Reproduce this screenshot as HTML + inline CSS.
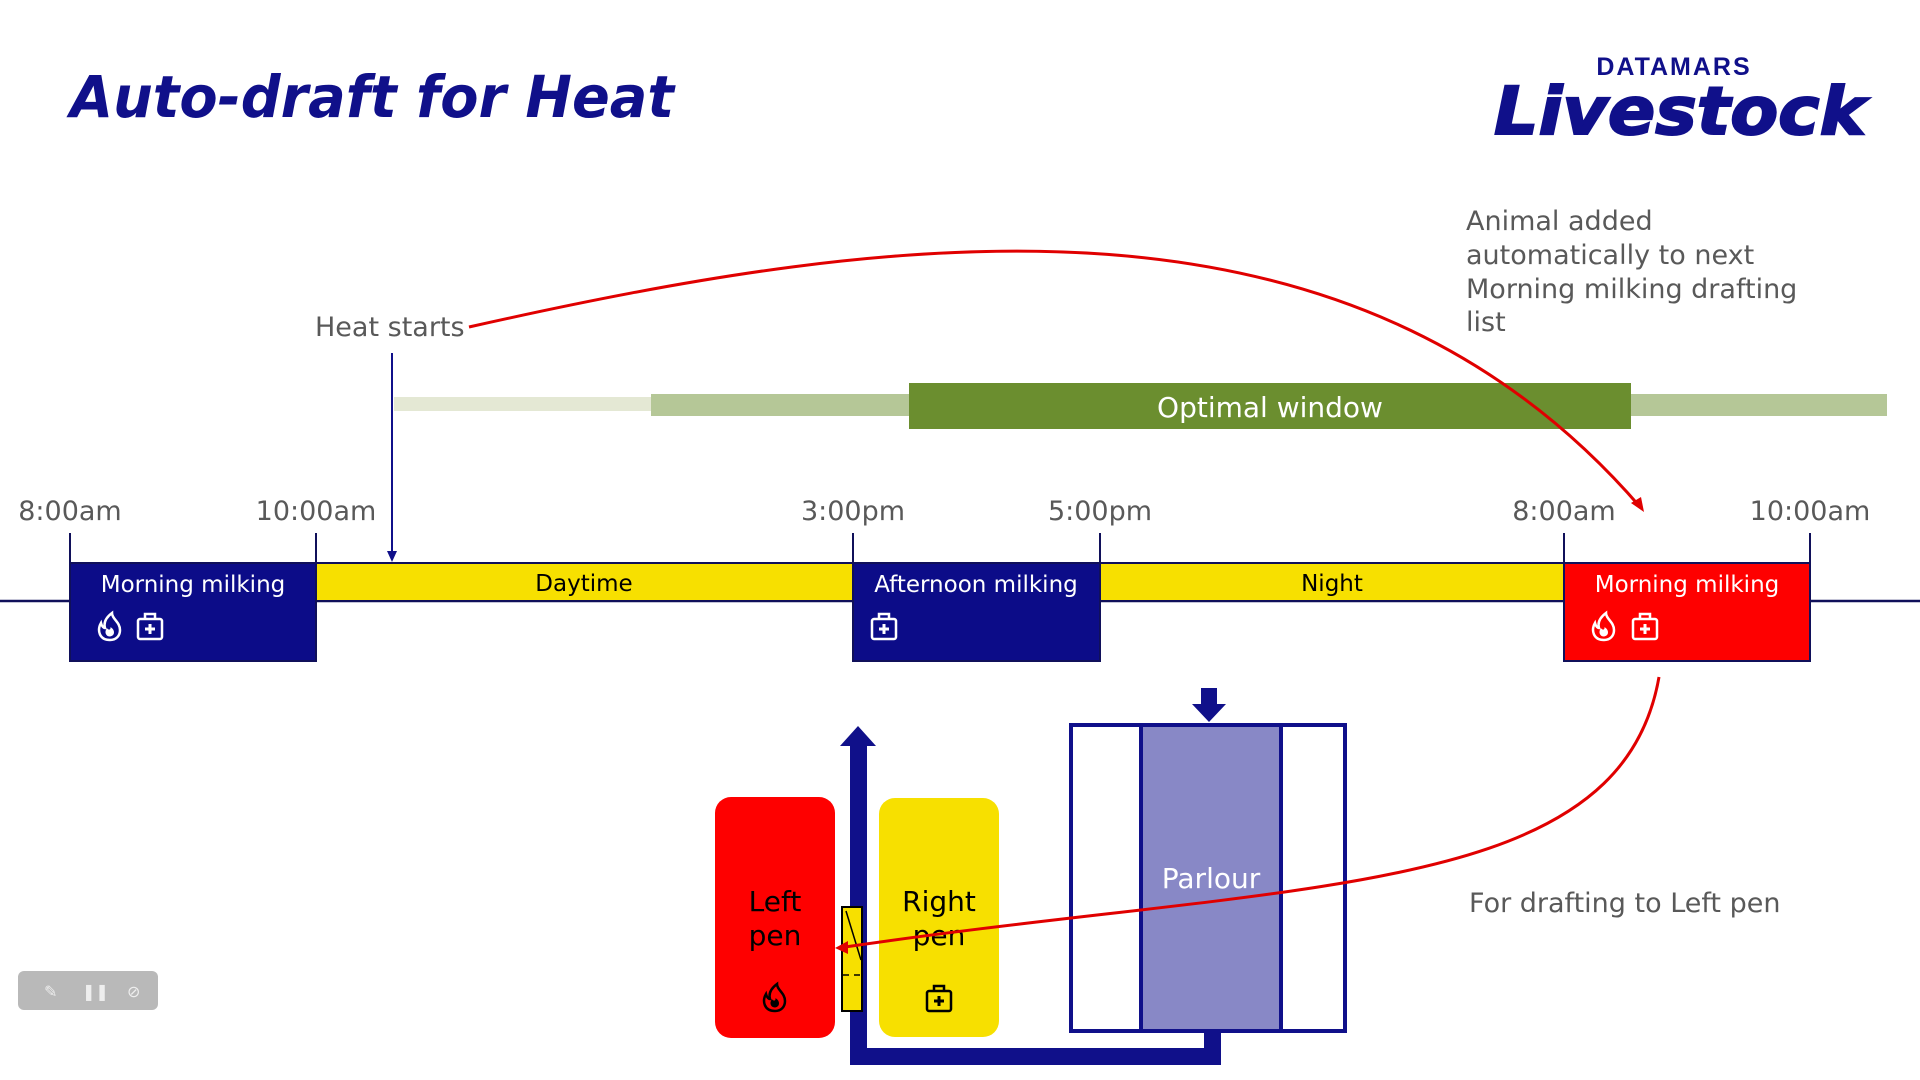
<!DOCTYPE html>
<html><head><meta charset="utf-8"><style>
html,body{margin:0;padding:0;background:#fff;}
svg{display:block;}
text{font-family:"DejaVu Sans","Liberation Sans",sans-serif;}
</style></head><body>
<svg width="1920" height="1080" viewBox="0 0 1920 1080" xmlns="http://www.w3.org/2000/svg">
<defs>
<g id="kit"><rect x="-12" y="-9" width="24" height="20" rx="2" fill="none" stroke-width="2.5"/><path d="M-5,-9 v-5 h10 v5" fill="none" stroke-width="2.5"/><path d="M0,-4 v10 M-5,1 h10" stroke-width="3"/></g>
<g id="fire"><path d="M0,13 C-11,13 -13,3 -9,-4 C-8,0 -6,1 -5,1 C-7,-6 -2,-11 2,-14 C2,-8 10,-5 10,3 C10,9 6,13 0,13 Z" fill="none" stroke-width="2.5"/><path d="M0,9 C-4,9 -5,5 -3,2 C-1,4 1,3 1,1 C4,3 5,8 0,9Z"/></g>
</defs>
<text x="70" y="117" font-size="58" font-weight="bold" font-style="italic" fill="#10108a" style="font-family:'DejaVu Sans',sans-serif" textLength="604" lengthAdjust="spacingAndGlyphs">Auto-draft for Heat</text>
<text x="1674" y="75" text-anchor="middle" font-size="25" font-weight="bold" fill="#10108a" style="font-family:'Liberation Sans',sans-serif;letter-spacing:2px">DATAMARS</text>
<text x="1494" y="134" font-size="66" font-weight="bold" font-style="italic" fill="#10108a" stroke="#10108a" stroke-width="2" style="font-family:'DejaVu Sans',sans-serif" textLength="372" lengthAdjust="spacingAndGlyphs">Livestock</text>

<rect x="394" y="397" width="257" height="14" fill="#e4e8d4"/>
<rect x="651" y="394" width="258" height="22" fill="#b5c797"/>
<rect x="909" y="383" width="722" height="46" fill="#6b8e2f"/>
<rect x="1631" y="394" width="256" height="22" fill="#b5c797"/>
<text x="1270" y="417" text-anchor="middle" font-size="28" fill="#fff">Optimal window</text>

<line x1="0" y1="601" x2="1920" y2="601" stroke="#10105a" stroke-width="2.5"/>
<rect x="316" y="563" width="537" height="38" fill="#f7e000" stroke="#10105a" stroke-width="2"/>
<rect x="1100" y="563" width="464" height="38" fill="#f7e000" stroke="#10105a" stroke-width="2"/>
<text x="584" y="591" text-anchor="middle" font-size="23" fill="#000">Daytime</text>
<text x="1332" y="591" text-anchor="middle" font-size="23" fill="#000">Night</text>
<rect x="70" y="563" width="246" height="98" fill="#0c0c88" stroke="#10105a" stroke-width="2"/>
<rect x="853" y="563" width="247" height="98" fill="#0c0c88" stroke="#10105a" stroke-width="2"/>
<rect x="1564" y="563" width="246" height="98" fill="#fe0000" stroke="#10105a" stroke-width="2"/>
<text x="193" y="592" text-anchor="middle" font-size="23" fill="#fff">Morning milking</text>
<text x="976" y="592" text-anchor="middle" font-size="23" fill="#fff">Afternoon milking</text>
<text x="1687" y="592" text-anchor="middle" font-size="23" fill="#fff">Morning milking</text>
<use href="#fire" x="110" y="627" stroke="#fff" fill="#fff"/>
<use href="#kit" x="150" y="628" stroke="#fff" fill="#fff"/>
<use href="#kit" x="884" y="628" stroke="#fff" fill="#fff"/>
<use href="#fire" x="1604" y="627" stroke="#fff" fill="#fff"/>
<use href="#kit" x="1645" y="628" stroke="#fff" fill="#fff"/>
<g stroke="#10105a" stroke-width="2">
<line x1="70" y1="533" x2="70" y2="563"/><line x1="316" y1="533" x2="316" y2="563"/>
<line x1="853" y1="533" x2="853" y2="563"/><line x1="1100" y1="533" x2="1100" y2="563"/>
<line x1="1564" y1="533" x2="1564" y2="563"/><line x1="1810" y1="533" x2="1810" y2="563"/>
</g>
<g font-size="27" fill="#595959" text-anchor="middle">
<text x="70" y="520">8:00am</text><text x="316" y="520">10:00am</text>
<text x="853" y="520">3:00pm</text><text x="1100" y="520">5:00pm</text>
<text x="1564" y="520">8:00am</text><text x="1810" y="520">10:00am</text>
</g>

<text x="315" y="336" font-size="27" fill="#595959">Heat starts</text>
<line x1="392" y1="353" x2="392" y2="553" stroke="#10108a" stroke-width="2"/>
<path d="M387,551 L397,551 L392,562 Z" fill="#10108a"/>
<path d="M469,327 C900,230 1350,170 1641,508" fill="none" stroke="#e00000" stroke-width="3"/>
<path d="M1644,512 L1631,503 L1641,497 Z" fill="#e00000"/>
<g font-size="27" fill="#595959">
<text x="1466" y="230">Animal added</text>
<text x="1466" y="264">automatically to next</text>
<text x="1466" y="298">Morning milking drafting</text>
<text x="1466" y="331">list</text>
<text x="1469" y="912">For drafting to Left pen</text>
</g>

<path d="M1201,688 h16 v16 h9 l-17,18 l-17,-18 h9 Z" fill="#10108a"/>
<rect x="1071" y="725" width="274" height="306" fill="#fff" stroke="#10108a" stroke-width="4"/>
<rect x="1141" y="725" width="140" height="306" fill="#8888c6" stroke="#10108a" stroke-width="4"/>
<text x="1211" y="888" text-anchor="middle" font-size="28" fill="#fff">Parlour</text>
<rect x="1204" y="1031" width="17" height="20" fill="#10108a"/>
<rect x="850" y="1048" width="371" height="17" fill="#10108a"/>
<rect x="850" y="745" width="17" height="320" fill="#10108a"/>
<path d="M840,746 L858,726 L876,746 Z" fill="#10108a"/>

<rect x="715" y="797" width="120" height="241" rx="16" fill="#fe0000"/>
<rect x="879" y="798" width="120" height="239" rx="16" fill="#f7e000"/>
<text x="775" y="911" text-anchor="middle" font-size="28" fill="#000">Left</text>
<text x="775" y="945" text-anchor="middle" font-size="28" fill="#000">pen</text>
<text x="939" y="911" text-anchor="middle" font-size="28" fill="#000">Right</text>
<text x="939" y="945" text-anchor="middle" font-size="28" fill="#000">pen</text>
<use href="#fire" x="775" y="998" stroke="#000" fill="#000"/>
<use href="#kit" x="939" y="1000" stroke="#000" fill="#000"/>
<rect x="842" y="907" width="20" height="104" fill="#f7e000" stroke="#000" stroke-width="2"/>
<line x1="846" y1="911" x2="861" y2="960" stroke="#000" stroke-width="1.5"/>
<line x1="843" y1="975" x2="862" y2="975" stroke="#000" stroke-width="1.5" stroke-dasharray="6,5"/>
<path d="M1659,677 C1620,900 1300,880 845,947" fill="none" stroke="#e00000" stroke-width="3"/>
<path d="M835,948 L848,941 L848,954 Z" fill="#e00000"/>

<rect x="18" y="971" width="140" height="39" rx="6" fill="#a8a8a8" opacity="0.8"/>
<text x="44" y="997" font-size="16" fill="#eee">✎</text>
<text x="82" y="997" font-size="16" fill="#eee">❚❚</text>
<text x="127" y="997" font-size="16" fill="#eee">⊘</text>
</svg>
</body></html>
